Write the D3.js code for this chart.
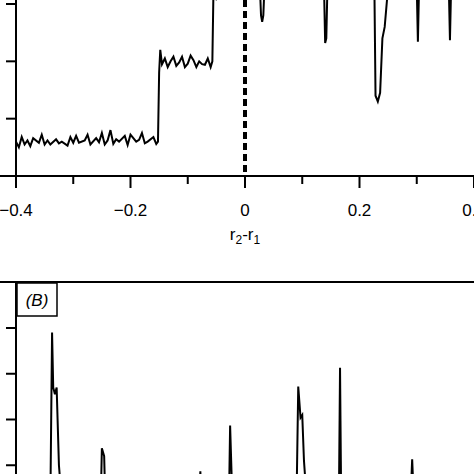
<!DOCTYPE html>
<html><head><meta charset="utf-8">
<script src="https://cdn.jsdelivr.net/npm/d3@7"></script>
<style>body{margin:0;background:#fff}svg{display:block}</style>
</head><body>
<div class="graphic"></div>
<script>
const width = 474, height = 474;

// top panel (A): r2-r1 vs level
const topX = [-0.4,-0.395,-0.39,-0.385,-0.38,-0.375,-0.37,-0.36,-0.355,-0.35,-0.345,-0.34,-0.33,-0.325,-0.32,-0.31,-0.305,-0.3,-0.295,-0.29,-0.28,-0.275,-0.27,-0.26,-0.255,-0.25,-0.245,-0.24,-0.235,-0.23,-0.225,-0.22,-0.21,-0.205,-0.2,-0.19,-0.185,-0.18,-0.175,-0.17,-0.16,-0.155,-0.152,
  -0.15,-0.148,-0.145,-0.14,-0.135,-0.13,-0.125,-0.12,-0.115,-0.11,-0.105,-0.1,-0.095,-0.09,-0.085,-0.08,-0.075,-0.07,-0.065,-0.06,-0.057,
  -0.055,-0.05,-0.04,0.026,0.028,0.03,0.032,0.034,0.138,0.14,0.142,0.144,0.226,0.228,0.232,0.236,0.24,0.244,0.25,0.254,0.3,0.302,0.304,0.356,0.358,0.36,0.4];
const topY = [0.6,0.5,0.68,0.55,0.62,0.52,0.66,0.58,0.72,0.55,0.62,0.55,0.64,0.57,0.6,0.53,0.68,0.58,0.7,0.58,0.62,0.72,0.55,0.66,0.59,0.75,0.55,0.62,0.8,0.56,0.64,0.6,0.7,0.54,0.72,0.6,0.63,0.75,0.57,0.6,0.68,0.56,0.6,
  1.8,2.2,1.95,2.05,1.9,2.0,2.08,1.92,1.98,2.08,1.9,1.96,2.1,2.02,1.9,2.0,1.95,1.94,2.05,1.9,2.0,
  3.3,3.1,3.3,3.3,2.8,2.69,2.8,3.3,3.3,2.32,2.4,3.3,3.3,1.4,1.3,1.45,2.4,2.6,3.3,3.3,3.3,2.34,3.3,3.3,2.37,3.3,3.3];
const topTicksY = [0,1,2,3];
const topTicksX = [-0.4,-0.2,0,0.2,0.4];
const topMinorX = [-0.3,-0.1,0.1,0.3];

// bottom panel (B): spikes
const botX = [-0.4,-0.34,-0.337,-0.335,-0.332,-0.329,-0.325,-0.32,-0.252,-0.25,-0.246,-0.244,-0.08,-0.078,-0.076,-0.028,-0.026,-0.022,0.09,0.093,0.097,0.1,0.103,0.108,0.164,0.166,0.168,0.289,0.292,0.295,0.4];
const botY = [0.2,0.2,3.9,2.7,2.55,2.7,1.0,0.2,0.2,1.37,1.2,0.2,0.2,0.87,0.2,0.2,1.87,0.2,0.2,2.72,2.04,2.1,1.1,0.2,0.2,3.13,0.2,0.2,1.13,0.2,0.2];
const botTicksY = [1,2,3,4];

const svg = d3.select(".graphic").append("svg").attr("width", width).attr("height", height);
const x = d3.scaleLinear().domain([-0.4, 0.4]).range([16, 474]);
const yT = d3.scaleLinear().domain([0, 3]).range([176, 4]);
const yB = d3.scaleLinear().domain([0, 4]).range([511, 328]);
const font = "Liberation Sans, Arial, sans-serif";

// top axes
svg.append("line").attr("x1", 16).attr("x2", 16).attr("y1", 0).attr("y2", 176).attr("stroke", "#000").attr("stroke-width", 2);
svg.append("line").attr("x1", 0).attr("x2", width).attr("y1", 176).attr("y2", 176).attr("stroke", "#000").attr("stroke-width", 2);
svg.selectAll(".ty").data(topTicksY.slice(1)).join("line")
  .attr("x1", 6).attr("x2", 16).attr("y1", d => yT(d)).attr("y2", d => yT(d)).attr("stroke", "#000").attr("stroke-width", 2);
svg.selectAll(".tx").data(topTicksX).join("line")
  .attr("x1", d => x(d)).attr("x2", d => x(d)).attr("y1", 176).attr("y2", 188).attr("stroke", "#000").attr("stroke-width", 2);
svg.selectAll(".tm").data(topMinorX).join("line")
  .attr("x1", d => x(d)).attr("x2", d => x(d)).attr("y1", 176).attr("y2", 184).attr("stroke", "#000").attr("stroke-width", 2);
svg.selectAll(".tl").data(topTicksX).join("text")
  .attr("x", d => x(d)).attr("y", 216).attr("text-anchor", "middle")
  .attr("font-family", font).attr("font-size", 17)
  .text(d => d === 0 ? "0" : (d < 0 ? "\u2212" : "") + Math.abs(d));
const lab = svg.append("text").attr("x", 245).attr("y", 240).attr("text-anchor", "middle").attr("font-family", font).attr("font-size", 17);
lab.append("tspan").text("r");
lab.append("tspan").attr("font-size", 12).attr("dy", 4).text("2");
lab.append("tspan").attr("dy", -4).text("-r");
lab.append("tspan").attr("font-size", 12).attr("dy", 4).text("1");

// dashed zero line
svg.append("line").attr("x1", x(0)).attr("x2", x(0)).attr("y1", 0).attr("y2", 172)
  .attr("stroke", "#000").attr("stroke-width", 4).attr("stroke-dasharray", "7,4");

const topPts = topX.map((v, i) => [v, topY[i]]);
svg.append("path").datum(topPts)
  .attr("d", d3.line().x(d => x(d[0])).y(d => yT(d[1])))
  .attr("fill", "none").attr("stroke", "#000").attr("stroke-width", 2);

// bottom panel
svg.append("line").attr("x1", 0).attr("x2", width).attr("y1", 282).attr("y2", 282).attr("stroke", "#000").attr("stroke-width", 2);
svg.append("line").attr("x1", 16).attr("x2", 16).attr("y1", 281).attr("y2", height).attr("stroke", "#000").attr("stroke-width", 2);
svg.selectAll(".by").data(botTicksY).join("line")
  .attr("x1", 6).attr("x2", 16).attr("y1", d => yB(d)).attr("y2", d => yB(d)).attr("stroke", "#000").attr("stroke-width", 2);
svg.append("rect").attr("x", 17).attr("y", 283).attr("width", 40).attr("height", 33).attr("fill", "#fff").attr("stroke", "#000").attr("stroke-width", 1.5);
svg.append("text").attr("x", 37).attr("y", 306).attr("text-anchor", "middle").attr("font-family", font).attr("font-size", 17).text("(B)")
  .attr("font-style", "italic");

const botPts = botX.map((v, i) => [v, botY[i]]);
svg.append("path").datum(botPts)
  .attr("d", d3.line().x(d => x(d[0])).y(d => yB(d[1])))
  .attr("fill", "none").attr("stroke", "#000").attr("stroke-width", 2);
</script>
</body></html>
